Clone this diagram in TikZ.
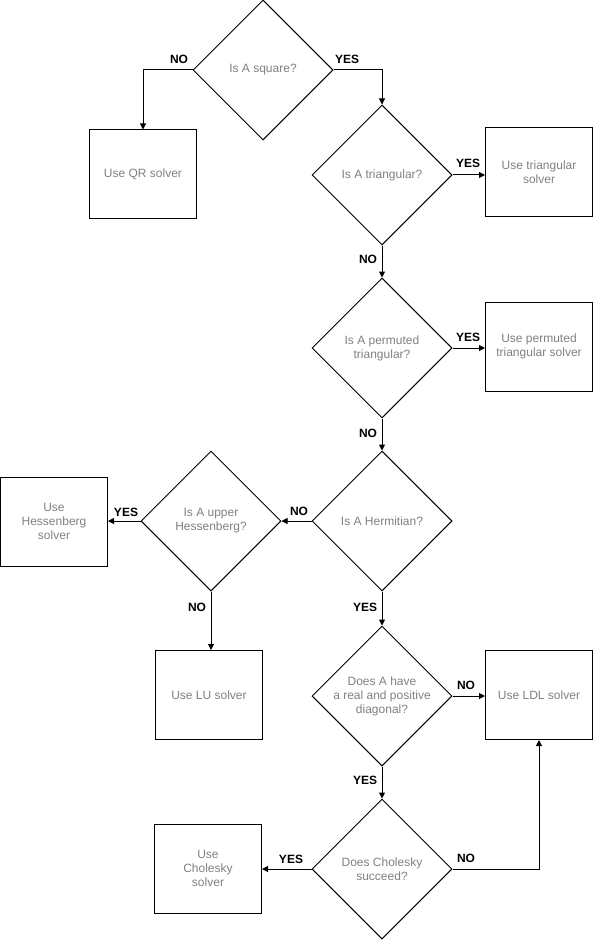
\documentclass[tikz,border=0pt]{standalone}
\usepackage{fontspec}
\setmainfont{Liberation Sans}
\usetikzlibrary{shapes.geometric,arrows.meta}
\definecolor{txtgray}{HTML}{808080}
\begin{document}
\begin{tikzpicture}[x=1pt,y=-1pt,
  every node/.style={font=\fontsize{12}{14}\selectfont},
  decision/.style={diamond,draw=black,line width=1pt,minimum width=140pt,minimum height=140pt,aspect=1,inner sep=0pt,align=center,text=txtgray},
  solver/.style={rectangle,draw=black,line width=1pt,minimum width=107pt,minimum height=89pt,inner sep=0pt,align=center,text=txtgray},
  lbl/.style={font=\fontsize{12}{14}\selectfont\bfseries,text=black,inner sep=0pt},
  arr/.style={draw=black,line width=1pt,-{Triangle[length=6pt,width=6pt]}}]
\useasboundingbox (0,0) rectangle (593,941);
% decisions
\node[decision] (d1) at (263,70) {Is A square?};
\node[decision] (d2) at (382,175) {Is A triangular?};
\node[decision] (d3) at (382,348) {Is A permuted\\triangular?};
\node[decision] (d4) at (382,521) {Is A Hermitian?};
\node[decision] (d5) at (211,521) {Is A upper\\Hessenberg?};
\node[decision] (d6) at (382,696) {Does A have\\a real and positive\\diagonal?};
\node[decision] (d7) at (382,869) {Does Cholesky\\succeed?};
% solvers
\node[solver] (qr) at (143,174.5) {Use QR solver};
\node[solver] (tri) at (539,172.5) {Use triangular\\solver};
\node[solver] (ptri) at (539,346.5) {Use permuted\\triangular solver};
\node[solver] (hess) at (54,521.5) {Use\\Hessenberg\\solver};
\node[solver] (lu) at (209,695) {Use LU solver};
\node[solver] (ldl) at (539,695) {Use LDL solver};
\node[solver] (chol) at (208,868.5) {Use\\Cholesky\\solver};
% connectors
\draw[arr] (d1.west) -| (qr.north);
\draw[arr] (d1.east) -| (d2.north);
\draw[arr] (d2.east) -- (d2.east -| tri.west);
\draw[arr] (d2.south) -- (d3.north);
\draw[arr] (d3.east) -- (d3.east -| ptri.west);
\draw[arr] (d3.south) -- (d4.north);
\draw[arr] (d4.west) -- (d5.east);
\draw[arr] (d5.west) -- (d5.west -| hess.east);
\draw[arr] (d5.south) -- (d5.south |- lu.north);
\draw[arr] (d4.south) -- (d6.north);
\draw[arr] (d6.east) -- (d6.east -| ldl.west);
\draw[arr] (d6.south) -- (d7.north);
\draw[arr] (d7.west) -- (d7.west -| chol.east);
\draw[arr] (d7.east) -| (ldl.south);
% labels
\node[lbl] (l1) at (179,59) {NO};
\node[lbl] (l2) at (347,59) {YES};
\node[lbl] (l3) at (468,163) {YES};
\node[lbl] (l4) at (368,259) {NO};
\node[lbl] (l5) at (468,337) {YES};
\node[lbl] (l6) at (368,433) {NO};
\node[lbl] (l7) at (299,511) {NO};
\node[lbl] (l8) at (126,512) {YES};
\node[lbl] (l9) at (197,607) {NO};
\node[lbl] (l10) at (365,607) {YES};
\node[lbl] (l11) at (466,685) {NO};
\node[lbl] (l12) at (365,780) {YES};
\node[lbl] (l13) at (291,859) {YES};
\node[lbl] (l14) at (466,858) {NO};
\end{tikzpicture}
\end{document}
